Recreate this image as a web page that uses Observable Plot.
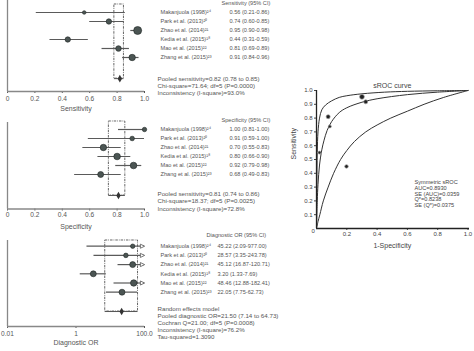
<!DOCTYPE html>
<html><head><meta charset="utf-8">
<script src="https://cdn.jsdelivr.net/npm/d3@7"></script>
<script src="https://cdn.jsdelivr.net/npm/@observablehq/plot@0.6"></script>
<style>
body{margin:0;background:#fff;}
#chart{position:relative;width:474px;height:351px;overflow:hidden;background:#fff;}
#chart > svg{position:absolute;}
</style></head><body><div id="chart"></div>
<script>
// ---------- data ----------
const studies = ["Makanjuola (1998)²⁴","Park et al. (2013)²⁰","Zhao et al. (2014)²¹","Kedia et al. (2015)¹⁸","Mao et al. (2015)²²","Zhang et al. (2015)²³"];

const sensEst = [0.56,0.74,0.95,0.44,0.81,0.91];
const sensLo  = [0.21,0.60,0.90,0.31,0.69,0.84];
const sensHi  = [0.86,0.85,0.98,0.59,0.89,0.96];
const sensWeight = [16,36,79,36,39,51];
const sensPooled = [0.82,0.78,0.85];
const sensStats = ["Pooled sensitivity=0.82 (0.78 to 0.85)","Chi-square=71.64; df=5 (P=0.0000)","Inconsistency (I-square)=93.0%"];

const specEst = [1.00,0.91,0.70,0.80,0.92,0.68];
const specLo  = [0.81,0.59,0.55,0.66,0.79,0.49];
const specHi  = [1.00,1.00,0.83,0.90,0.98,0.83];
const specWeight = [24,26,51,54,54,44];
const specPooled = [0.81,0.74,0.86];
const specStats = ["Pooled sensitivity=0.81 (0.74 to 0.86)","Chi-square=18.37; df=5 (P=0.0025)","Inconsistency (I-square)=72.8%"];

const dorEst = [45.22,28.57,45.12,3.20,48.46,22.05];
const dorLo  = [2.09,3.35,16.87,1.33,12.88,7.75];
const dorHi  = [977.00,243.78,120.71,7.69,182.41,62.73];
const dorWeight = [24,26,44,44,51,44];
const dorPooled = [21.50,7.14,64.73];
const dorStats = ["Random effects model","Pooled diagnostic OR=21.50 (7.14 to 64.73)","Cochran Q=21.00; df=5 (P=0.0008)","Inconsistency (I-square)=76.2%","Tau-squared=1.3090"];

const linTicks = [0,0.2,0.4,0.6,0.8,1.0];
const logTicks = [0.01,1,100];

// sROC
const rocFpr  = [0.02,0.088,0.30,0.198,0.077,0.325];
const rocSens = [0.55,0.74,0.954,0.45,0.81,0.918];
const rocWeight = [25,25,65,35,45,45];
const upperFpr  = [0,0.002,0.005,0.01,0.02,0.035,0.06,0.1,0.15,0.2,0.3,0.45,0.6,0.8,1];
const upperSens = [0,0.3,0.55,0.7,0.8,0.86,0.895,0.925,0.95,0.962,0.976,0.988,0.994,0.998,1];
const midFpr  = [0,0.005,0.01,0.02,0.035,0.05,0.07,0.1,0.15,0.2,0.3,0.4,0.6,0.8,1];
const midSens = [0,0.2,0.32,0.46,0.57,0.64,0.71,0.775,0.84,0.875,0.915,0.94,0.97,0.988,1];
const lowFpr  = [0,0.01,0.022,0.045,0.077,0.113,0.159,0.2,0.25,0.325,0.4,0.49,0.6,0.71,0.84,1];
const lowSens = [0,0.05,0.1,0.2,0.3,0.4,0.5,0.565,0.63,0.7,0.75,0.8,0.85,0.9,0.95,1];
const rocTicksX = [0.2,0.4,0.6,0.8,1.0];
const rocTicksY = [0.1,0.2,0.3,0.4,0.5,0.6,0.7,0.8,0.9,1.0];
const rocStats = ["Symmetric sROC","AUC=0.8930","SE (AUC)=0.0359","Q*=0.8238","SE (Q*)=0.0375"];

// ---------- drawing ----------
const FONT = "'Liberation Sans', Arial, Helvetica, sans-serif";
const TXT = "#555";
const chart = document.getElementById("chart");

const arrowRight = {draw(ctx, size){ const r = Math.sqrt(size)/1.4; ctx.moveTo(r,0); ctx.lineTo(-r,-r*0.95); ctx.lineTo(-r,r*0.95); ctx.closePath(); }};

function forest(c){
  const L = c.layout;
  const width = 300;
  const rows = studies.map((n,i)=>({name:n, est:c.est[i], lo:c.lo[i], hi:c.hi[i], w:c.weight[i], k:i+1,
    txt:`${c.est[i].toFixed(2)} (${c.lo[i].toFixed(2)}-${c.hi[i].toFixed(2)})`}));
  const [xmin, xmax] = c.domain;
  const k0 = -L.origin/L.step, k1 = (L.baseline-L.origin)/L.step;
  const pooled = {est:c.pooled[0], lo:c.pooled[1], hi:c.pooled[2]};
  const stats = c.stats.map((s,i)=>({s, k:L.statsK + i*L.statsStep}));
  const over = rows.filter(d=>d.hi > xmax);
  const plot = Plot.plot({
    width, height:c.height, marginLeft:7, marginRight:156, marginTop:0, marginBottom:c.height-L.baseline,
    x:{type:c.log?"log":"linear", domain:c.domain, ticks:c.ticks, tickFormat:c.tickFormat, tickSize:2, tickPadding:L.tickPad, label:null},
    y:{domain:[k1,k0], axis:null},
    r:{type:"sqrt", domain:[0,100], range:[0,4.5]},
    style:{fontFamily:FONT, fontSize:"6.6px", color:TXT, background:"transparent", overflow:"visible"},
    marks:[
      Plot.ruleX([xmin],{y1:k0 + L.axisTop/L.step, y2:k1, stroke:"#888", strokeWidth:1.3}),
      Plot.ruleY([k1],{x1:xmin, x2:xmax, stroke:"#888", strokeWidth:1.3}),
      Plot.rect([pooled],{x1:"lo", x2:"hi", y1:L.boxTopK, y2:L.pooledK, fill:"none", stroke:"#555", strokeWidth:0.9, strokeDasharray:"2.5,1,0.8,1"}),
      Plot.ruleY(rows,{y:"k", x1:"lo", x2:d=>Math.min(d.hi,xmax), stroke:"#5a5a5a", strokeWidth:1.2}),
      Plot.ruleY([pooled],{y:L.pooledK, x1:"lo", x2:"hi", stroke:"#555", strokeWidth:1}),
      Plot.dot(over,{x:xmax, y:"k", symbol:arrowRight, r:1.7, dx:-2, fill:"white", stroke:"#555", strokeWidth:0.8}),
      Plot.dot(rows,{x:"est", y:"k", r:"w", fill:"#4b5553", stroke:"#1f2523", strokeWidth:0.6}),
      Plot.dot([pooled],{x:"est", y:L.pooledK, symbol:"diamond", r:2.3, fill:"#333"}),
      Plot.text([c.header],{text:d=>d, frameAnchor:"right", y:L.headerK, dx:c.headerDx, textAnchor:"start", fontSize:5.6, fill:TXT}),
      Plot.text(rows,{text:"name", y:"k", frameAnchor:"right", dx:16, textAnchor:"start", fontSize:5.6, fill:TXT}),
      Plot.text(rows,{text:"txt", y:"k", frameAnchor:"right", dx:c.valueDx, textAnchor:"start", fontSize:5.6, fill:TXT}),
      Plot.text(stats,{text:"s", y:"k", frameAnchor:"right", dx:13, textAnchor:"start", fontSize:6.2, fill:TXT}),
      Plot.text([c.xLabel],{text:d=>d, frameAnchor:"bottom", dy:L.labelDy, fontSize:7, fill:TXT})
    ]
  });
  plot.style.left = "0px"; plot.style.top = c.top + "px";
  chart.appendChild(plot);
}

const linFmt = d => d===0 ? "0" : d.toFixed(1);
const logFmt = d => d===100 ? "100.0" : String(d);

forest({top:0, height:115, est:sensEst, lo:sensLo, hi:sensHi, weight:sensWeight, pooled:sensPooled, stats:sensStats,
  header:"Sensitivity (95% CI)", xLabel:"Sensitivity", domain:[0,1], ticks:linTicks, tickFormat:linFmt, headerDx:77, valueDx:85,
  layout:{origin:3, step:9, headerK:0, pooledK:8.35, statsK:8.44, statsStep:0.75, axisTop:0, baseline:91, boxTopK:0.11, labelDy:19, tickPad:2.5}});

forest({top:115, height:115, est:specEst, lo:specLo, hi:specHi, weight:specWeight, pooled:specPooled, stats:specStats,
  header:"Specificity (95% CI)", xLabel:"Specificity", domain:[0,1], ticks:linTicks, tickFormat:linFmt, headerDx:77, valueDx:85,
  layout:{origin:5, step:9, headerK:0, pooledK:8.33, statsK:8.22, statsStep:0.78, axisTop:7, baseline:93.5, boxTopK:0.11, labelDy:19.5, tickPad:1.5}});

forest({top:230, height:121, est:dorEst, lo:dorLo, hi:dorHi, weight:dorWeight, pooled:dorPooled, stats:dorStats, log:true,
  header:"Diagnostic OR (95% CI)", xLabel:"Diagnostic OR", domain:[0.01,100], ticks:logTicks, tickFormat:logFmt, headerDx:62, valueDx:73,
  layout:{origin:6.5, step:9.2, headerK:-0.17, pooledK:8.1, statsK:7.88, statsStep:0.76, axisTop:10, baseline:96, boxTopK:0.38, labelDy:18, tickPad:2.5}});

// sROC panel
const pts = rocFpr.map((f,i)=>({f, s:rocSens[i], w:rocWeight[i]}));
const mk = (fx, sy) => fx.map((f,i)=>({f, s:sy[i]}));
const roc = Plot.plot({
  width:184, height:175, marginLeft:26, marginRight:6.5, marginTop:12, marginBottom:25,
  x:{domain:[0,1], ticks:rocTicksX, tickFormat:d=>d.toFixed(1), tickSize:2, tickPadding:1, label:null},
  y:{domain:[0,1], ticks:rocTicksY, tickFormat:d=>d.toFixed(1), tickSize:2, tickPadding:2, label:null},
  r:{type:"sqrt", domain:[0,100], range:[0,3]},
  style:{fontFamily:FONT, fontSize:"6px", color:"#444", background:"transparent", overflow:"visible"},
  marks:[
    Plot.line(mk(upperFpr,upperSens),{x:"f", y:"s", curve:"catmull-rom", stroke:"#333", strokeWidth:1}),
    Plot.line(mk(midFpr,midSens),{x:"f", y:"s", curve:"catmull-rom", stroke:"#333", strokeWidth:1}),
    Plot.line(mk(lowFpr,lowSens),{x:"f", y:"s", curve:"catmull-rom", stroke:"#333", strokeWidth:1}),
    Plot.ruleX([0],{y1:0, y2:1, stroke:"#222", strokeWidth:1.3}),
    Plot.ruleY([0],{x1:0, x2:1.01, stroke:"#222", strokeWidth:1.3}),
    Plot.dot(pts,{x:"f", y:"s", r:"w", fill:"#222", stroke:"#999", strokeWidth:0.7}),
    Plot.text(["sROC curve"],{text:d=>d, frameAnchor:"top", dy:-7, fontSize:7, fill:"#444"}),
    Plot.text(["Sensitivity"],{text:d=>d, frameAnchor:"left", dx:-23, rotate:-90, fontSize:7, fill:"#444"}),
    Plot.text(["1-Specificity"],{text:d=>d, frameAnchor:"bottom", dy:19, fontSize:7, fill:"#444"}),
    Plot.text(["0"],{text:d=>d, frameAnchor:"bottom-left", dx:-5, dy:4, fontSize:6, fill:"#444"}),
    Plot.text([rocStats.join("\n")],{text:d=>d, frameAnchor:"top-left", dx:98, dy:90, lineAnchor:"top", textAnchor:"start", fontSize:5.6, lineHeight:1.0, fill:"#444"})
  ]
});
roc.style.left = "290px"; roc.style.top = "78px";
chart.appendChild(roc);
</script>
</body></html>
